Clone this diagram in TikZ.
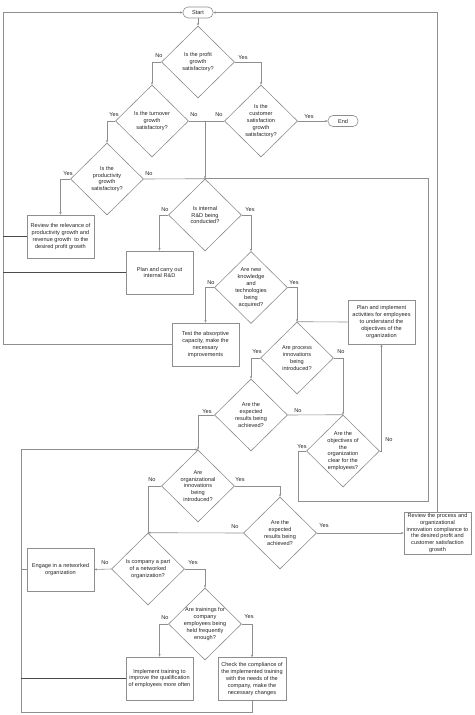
\documentclass[tikz,border=0pt]{standalone}
\usepackage{fontspec}
\setmainfont{Liberation Sans}
\usetikzlibrary{shapes.geometric,arrows.meta}
\definecolor{lc}{HTML}{8E8E8E}
\definecolor{dc}{HTML}{4A4A4A}
\definecolor{tc}{HTML}{262626}
\newcommand\dgfont{\fontsize{5.6}{6.9}\selectfont}
\newcommand\dianode[3]{\node[dia] (#1) at (#2) {};\node[dtxt] (#1t) at (#1) {#3};}
\begin{document}
\begin{tikzpicture}[x=1pt,y=-1pt,
  ln/.style={draw=lc, line width=0.6pt},
  dln/.style={draw=dc, line width=0.6pt},
  arr/.style={ln, -{Stealth[length=2.6pt,width=2.2pt]}},
  box/.style={draw=lc, line width=0.6pt, minimum width=67pt, minimum height=43pt, inner sep=0pt, align=center, font=\dgfont, text=tc},
  dia/.style={draw=lc, line width=0.6pt, diamond, minimum width=73pt, minimum height=72pt, inner sep=0pt},
  dtxt/.style={align=center, font=\dgfont, text=tc, inner sep=0pt},
  term/.style={draw=lc, line width=0.6pt, rounded corners=5pt, minimum width=30pt, minimum height=11pt, inner sep=0pt, font=\dgfont, text=tc},
  lab/.style={font=\dgfont, text=tc, inner sep=0pt}]
\path[use as bounding box, fill=white] (0,0) rectangle (474,715);

% terminals
\node[term] (start) at (198,12.5) {Start};
\node[term] (end) at (343,121) {End};

% decisions
\dianode{profit}{198,62}{Is the profit\\growth\\satisfactory?}
\dianode{turn}{152,121}{Is the turnover\\growth\\satisfactory?}
\dianode{cust}{261,121}{Is the\\customer\\satisfaction\\growth\\satisfactory?}
\dianode{prod}{107,179}{Is the\\productivity\\growth\\satisfactory?}
\dianode{rd}{205,215}{Is internal\\R\&D being\\conducted?}
\dianode{nk}{251,287.5}{Are new\\knowledge\\and\\technologies\\being\\acquired?}
\dianode{proc}{297,358}{Are process\\innovations\\being\\introduced?}
\dianode{expa}{251,415}{Are the\\expected\\results being\\achieved?}
\dianode{obj}{343,451}{Are the\\objectives of\\the\\organization\\clear for the\\employees?}
\dianode{org}{198,486}{Are\\organizational\\innovations\\being\\introduced?}
\dianode{expb}{280,533}{Are the\\expected\\results being\\achieved?}
\dianode{net}{148,569}{Is company a part\\of a networked\\organization?}
\dianode{train}{205,624}{Are trainings for\\company\\employees being\\held frequently\\enough?}

% processes
\node[box] (rel) at (60.5,236.5) {Review the relevance of\\productivity growth and\\revenue growth\ \ to the\\desired profit growth};
\node[box] (plan) at (159.5,272.5) {Plan and carry out\\internal R\&D};
\node[box] (test) at (205.5,344.5) {Test the absorptive\\capacity, make the\\necessary\\improvements};
\node[box, minimum height=44pt] (pi) at (381.5,322) {Plan and implement\\activities for employees\\to understand the\\objectives of the\\organization};
\node[box, minimum height=42pt] (review) at (437.5,533) {Review the process and\\organizational\\innovation compliance to\\the desired profit and\\customer satisfaction\\growth};
\node[box] (engage) at (60.5,569.5) {Engage in a networked\\organization};
\node[box] (impl) at (159.5,678.5) {Implement training to\\improve the qualification\\of employees more often};
\node[box, minimum width=68pt] (check) at (252,679) {Check the compliance of\\the implemented training\\with the needs of the\\company, make the\\necessary changes};

% helper coordinates
\coordinate (tl) at (3,12.5);
\coordinate (bl) at (21,712);
\coordinate (m1) at (205,121);
\coordinate (o1) at (298,501);
\coordinate (o2) at (428,501);

% connectors
\draw[arr] (start.south) -- (profit.north);
\draw[arr] (profit.west) -| (turn.north);
\draw[arr] (profit.east) -| (cust.north);
\draw[arr] (cust.east) -- (end.west);
\draw[arr] (turn.west) -| (prod.north);
\draw[ln] (turn.east) -- (m1);
\draw[ln] (cust.west) -- (m1);
\draw[arr] (m1) -- (rd.north);
\draw[arr] (prod.west) -| (rel.north);
\draw[ln] (prod.east) -- (rd.north);
\draw[arr] (rd.west) -| (plan.north);
\draw[arr] (rd.east) -| (nk.north);
\draw[arr] (nk.west) -| (test.north);
\draw[arr] (nk.east) -| (proc.north);
\draw[ln] (pi.west) -- (proc.north);
\draw[arr] (proc.west) -| (expa.north);
\draw[arr] (proc.east) -| (obj.north);
\draw[ln] (expa.east) -- (obj.north);
\draw[arr] (expa.west) -| (org.north);
\draw[arr] (obj.east) -| (pi.south);
\draw[ln] (obj.west) -| (o1) -- (o2) |- (rd.north);
\draw[ln] (org.west) -| (net.north);
\draw[arr] (org.east) -| (expb.north);
\draw[arr] (expb.west) -- (net.north);
\draw[arr] (expb.east) -- (review.west);
\draw[arr] (net.west) -- (engage.east);
\draw[arr] (net.east) -| (train.north);
\draw[arr] (train.west) -| (impl.north);
\draw[arr] (train.east) -| (check.north);

% outer loops
\draw[arr] (test.west) -| (tl) -- (start.west);
\draw[dln] (rel.west) -- (rel.west -| tl);
\draw[dln] (plan.west) -- (plan.west -| tl);
\draw[arr] (review.north) |- (start.east);
\draw[arr] (check.south) |- (bl) |- (org.north);
\draw[ln] (engage.west) -- (engage.west -| bl);
\draw[dln] (impl.west) -- (impl.west -| bl);

% labels
\node[lab] (l1) at (159,56) {No};
\node[lab] (l2) at (243,58) {Yes};
\node[lab] (l3) at (114,115) {Yes};
\node[lab] (l4) at (194,115) {No};
\node[lab] (l5) at (219,115) {No};
\node[lab] (l6) at (309,117) {Yes};
\node[lab] (l7) at (68,174) {Yes};
\node[lab] (l8) at (149,174) {No};
\node[lab] (l9) at (165,210) {No};
\node[lab] (l10) at (250,210) {Yes};
\node[lab] (l11) at (211,283) {No};
\node[lab] (l12) at (294,283) {Yes};
\node[lab] (l13) at (257,352) {Yes};
\node[lab] (l14) at (341,352) {No};
\node[lab] (l15) at (207,412) {Yes};
\node[lab] (l16) at (298,411) {No};
\node[lab] (l17) at (302,447) {Yes};
\node[lab] (l18) at (389,440) {No};
\node[lab] (l19) at (152,480) {No};
\node[lab] (l20) at (240,480) {Yes};
\node[lab] (l21) at (235,527) {No};
\node[lab] (l22) at (324,526) {Yes};
\node[lab] (l23) at (105,563) {No};
\node[lab] (l24) at (193,563) {Yes};
\node[lab] (l25) at (165,618) {No};
\node[lab] (l26) at (249,617) {Yes};
\end{tikzpicture}
\end{document}
